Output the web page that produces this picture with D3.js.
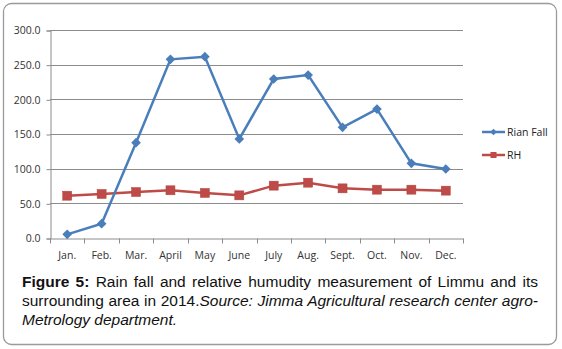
<!DOCTYPE html>
<html><head><meta charset="utf-8">
<script src="https://cdn.jsdelivr.net/npm/d3@7"></script>
<style>
body{margin:0;background:#fff;}
#wrap{position:relative;width:562px;height:349px;}
.cap{position:absolute;left:22px;width:516px;font-family:"Liberation Sans",Arial,sans-serif;font-size:15.5px;color:#111;line-height:19px;white-space:nowrap;}
.j{text-align:justify;text-align-last:justify;white-space:normal;}
</style></head>
<body><div id="wrap"><svg id="chart" width="562" height="349"></svg>
<div class="cap j" style="top:272px"><b>Figure 5:</b> Rain fall and relative humudity measurement of Limmu and its</div>
<div class="cap j" style="top:291px">surrounding area in 2014.<i>Source: Jimma Agricultural research center agro-</i></div>
<div class="cap" style="top:310px"><i>Metrology department.</i></div>
</div>
<script>
const months = ["Jan.","Feb.","Mar.","April","May","June","July","Aug.","Sept.","Oct.","Nov.","Dec."];
const rainFall = [5.3,20.6,137.5,257.7,261.5,142.8,229.3,235.0,159.6,186.0,107.7,99.5];
const rh = [61.0,63.5,66.3,68.8,65.0,61.5,75.5,79.8,71.6,69.7,69.7,68.3];
const yTicks = [0,50,100,150,200,250,300];
const seriesNames = ["Rian Fall","RH"];

(function(){
const svg = d3.select("#chart");
svg.append("rect").attr("x",3.5).attr("y",3.5).attr("width",553).attr("height",341)
  .attr("rx",8).attr("fill","none").attr("stroke","#9a9a9a").attr("stroke-width",1.3);

const pL=50,pR=463,pT=30,pB=238;
const x = d3.scaleBand().domain(months).range([pL,pR]);
const y = d3.scaleLinear().domain([0,300]).range([pB,pT]);

svg.append("g").selectAll("line").data(yTicks.filter(d=>d>0)).join("line")
  .attr("x1",pL).attr("x2",pR).attr("y1",d=>Math.round(y(d))+0.5).attr("y2",d=>Math.round(y(d))+0.5)
  .attr("stroke","#8c8c8c").attr("stroke-width",1);

const yAxis = d3.axisLeft(y).tickValues(yTicks).tickFormat(d3.format(".1f")).tickSize(4).tickPadding(6);
const gy = svg.append("g").attr("transform",`translate(${pL+0.5},0.5)`).call(yAxis);
gy.select(".domain").attr("stroke","#8c8c8c");
gy.selectAll(".tick line").attr("stroke","#8c8c8c");
gy.selectAll("text").attr("font-family","'Open Sans',sans-serif").attr("font-size","10.5px").attr("fill","#333");

const xAxis = d3.axisBottom(x).tickSize(0).tickPadding(13);
const gx = svg.append("g").attr("transform",`translate(0,${pB+0.5})`).call(xAxis);
gx.select(".domain").attr("stroke","#8c8c8c");
gx.selectAll("text").attr("font-family","'Open Sans',sans-serif").attr("font-size","10.5px").attr("fill","#333");
const bounds = months.map(m=>x(m)).concat([pR]);
gx.append("g").selectAll("line").data(bounds).join("line")
  .attr("x1",d=>Math.round(d)+0.5).attr("x2",d=>Math.round(d)+0.5).attr("y1",0).attr("y2",5)
  .attr("stroke","#8c8c8c");

const cx = m => x(m)+x.bandwidth()/2;
const line = d3.line().x((d,i)=>cx(months[i])).y(d=>y(d));
const blue="#4a7ebb", red="#be4b48";

svg.append("path").datum(rh).attr("d",line).attr("fill","none").attr("stroke",red).attr("stroke-width",2.5);
svg.append("g").selectAll("rect").data(rh).join("rect")
  .attr("x",(d,i)=>cx(months[i])-4.5).attr("y",d=>y(d)-4.5).attr("width",9).attr("height",9)
  .attr("fill",red).attr("stroke","#b04440").attr("stroke-width",0.5);

svg.append("path").datum(rainFall).attr("d",line).attr("fill","none").attr("stroke",blue).attr("stroke-width",2.5);
const diamond = d3.symbol().type(d3.symbolDiamond2).size(60);
svg.append("g").selectAll("path").data(rainFall).join("path")
  .attr("d",diamond).attr("transform",(d,i)=>`translate(${cx(months[i])},${y(d)})`).attr("fill",blue);

const lg = svg.append("g");
const ly=[132,155];
const colors=[blue,red];
seriesNames.forEach((n,i)=>{
  lg.append("line").attr("x1",482).attr("x2",505).attr("y1",ly[i]).attr("y2",ly[i]).attr("stroke",colors[i]).attr("stroke-width",2.5);
  if(i===0) lg.append("path").attr("d",d3.symbol().type(d3.symbolDiamond2).size(28)).attr("transform",`translate(493.5,${ly[i]})`).attr("fill",blue);
  else lg.append("rect").attr("x",490.5).attr("y",ly[i]-3).attr("width",6).attr("height",6).attr("fill",red);
  lg.append("text").attr("x",507).attr("y",ly[i]+4).text(n)
    .attr("font-family","'Open Sans',sans-serif").attr("font-size","10.5px").attr("fill","#222");
});
})();
</script></body></html>
